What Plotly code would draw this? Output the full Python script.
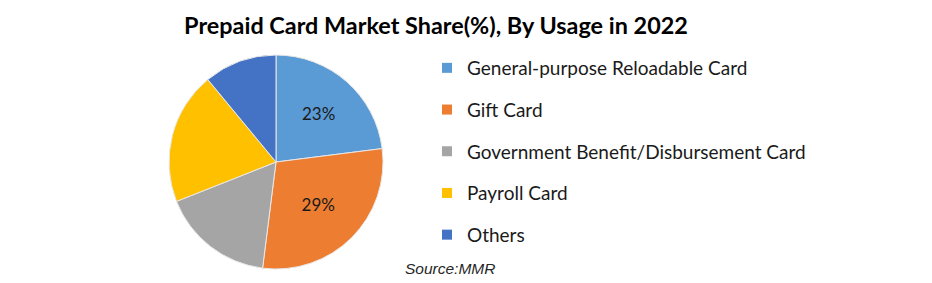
import plotly.graph_objects as go

title = "Prepaid Card Market Share(%), By Usage in 2022"
categories = ["General-purpose Reloadable Card", "Gift Card",
              "Government Benefit/Disbursement Card", "Payroll Card", "Others"]
shares = [23, 29, 17, 20, 11]
shown_labels = ["23%", "29%", "", "", ""]
colors = ["#5B9BD5", "#ED7D31", "#A5A5A5", "#FFC000", "#4472C4"]
source = "Source:MMR"

W, H = 932, 283
fig = go.Figure()
fig.add_trace(go.Pie(
    labels=categories, values=shares, sort=False, direction="clockwise",
    rotation=0, text=shown_labels, texttemplate="%{text}",
    textposition="inside", insidetextorientation="horizontal",
    textfont=dict(family="Lato", size=17, color="#1a1a1a"),
    marker=dict(colors=colors, line=dict(color="#e8e8e8", width=1)),
    domain=dict(x=[169 / W, 383 / W], y=[1 - 269 / H, 1 - 55 / H]),
    showlegend=False, hoverinfo="label+percent",
))
for i, (name, c) in enumerate(zip(categories, colors)):
    fig.add_trace(go.Scatter(
        x=[None], y=[None], mode="markers", name=name, legendgroup=f"g{i}",
        marker=dict(symbol="square", size=10, color=c), showlegend=True,
    ))

fig.update_layout(
    width=W, height=H, margin=dict(l=0, r=0, t=0, b=0),
    paper_bgcolor="white", plot_bgcolor="white",
    xaxis=dict(visible=False), yaxis=dict(visible=False),
    title=dict(text=f"<b>{title}</b>", x=436 / W, xanchor="center",
               y=1 - 26 / H, yanchor="middle",
               font=dict(family="Lato", size=23.4, color="#000000")),
    legend=dict(x=427 / W, xanchor="left", y=1 - 49 / H, yanchor="top",
                font=dict(family="Lato", size=19, color="#1a1a1a"),
                tracegroupgap=14, itemwidth=30, bgcolor="rgba(0,0,0,0)"),
    annotations=[dict(text=f"<i>{source}</i>", x=403 / W, y=1 - 268 / H,
                      xref="paper", yref="paper", xanchor="left", yanchor="middle",
                      showarrow=False,
                      font=dict(family="Liberation Sans", size=15.5, color="#262626"))],
)
fig.write_html("out.html")
